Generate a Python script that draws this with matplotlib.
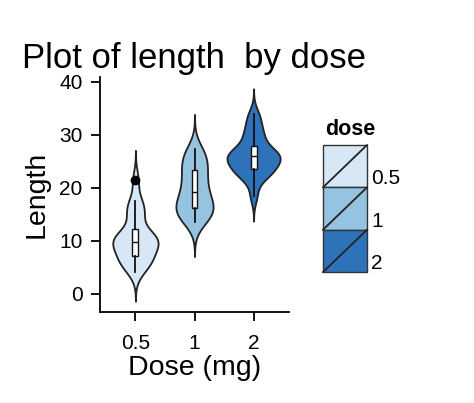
import numpy as np
import matplotlib
matplotlib.use("Agg")
import matplotlib.pyplot as plt
from matplotlib.patches import Rectangle
from matplotlib.lines import Line2D
from matplotlib.legend_handler import HandlerBase

plt.rcParams["font.family"] = ["Liberation Sans", "DejaVu Sans"]

# ToothGrowth lengths per dose
doses = ["0.5", "1", "2"]
len_05 = [4.2, 11.5, 7.3, 5.8, 6.4, 10.0, 11.2, 11.2, 5.2, 7.0,
          15.2, 21.5, 17.6, 9.7, 14.5, 10.0, 8.2, 9.4, 16.5, 9.7]
len_1 = [16.5, 16.5, 15.2, 17.3, 22.5, 17.3, 13.6, 14.5, 18.8, 15.5,
         19.7, 23.3, 23.6, 26.4, 20.0, 25.2, 25.8, 21.2, 14.5, 27.3]
len_2 = [23.6, 18.5, 33.9, 25.5, 26.4, 32.5, 26.7, 21.5, 23.3, 29.5,
         25.5, 26.4, 22.4, 24.5, 24.8, 30.9, 26.4, 27.3, 29.4, 23.0]
groups = [len_05, len_1, len_2]
fills = ["#D8E7F5", "#96C3E0", "#2E72B9"]


def bw_nrd0(x):
    x = np.asarray(x)
    q1, q3 = np.percentile(x, [25, 75])
    lo = min(np.std(x, ddof=1), (q3 - q1) / 1.34)
    return 0.9 * lo * len(x) ** -0.2


def kde(x, n=512, cut=3):
    # same as R density() with trim=FALSE in geom_violin
    x = np.asarray(x)
    bw = bw_nrd0(x)
    grid = np.linspace(x.min() - cut * bw, x.max() + cut * bw, n)
    dens = np.exp(-0.5 * ((grid[:, None] - x[None, :]) / bw) ** 2).sum(1)
    dens /= len(x) * bw * np.sqrt(2 * np.pi)
    return grid, dens


stats = []
for g in groups:
    grid, dens = kde(g)
    stats.append({"coords": grid, "vals": dens, "mean": np.mean(g),
                  "median": np.median(g), "min": grid.min(), "max": grid.max()})
gmax = max(s["vals"].max() for s in stats)
widths = [0.9 * s["vals"].max() / gmax for s in stats]  # scale = "area"

fig = plt.figure(figsize=(4.74, 4.03), dpi=100)
ax = fig.add_axes([100 / 474, 1 - 312 / 403, 189 / 474, 235 / 403])

pos = [1, 2, 3]
vp = ax.violin(stats, positions=pos, widths=widths, showmeans=False,
               showextrema=False, showmedians=False)
for body, c in zip(vp["bodies"], fills):
    body.set_facecolor(c)
    body.set_edgecolor("#222222")
    body.set_alpha(1)
    body.set_linewidth(1.3)

ax.boxplot(groups, positions=pos, widths=0.1, patch_artist=True,
           showcaps=False, manage_ticks=False,
           boxprops=dict(facecolor="white", edgecolor="#111111", linewidth=1.0),
           medianprops=dict(color="#111111", linewidth=1.0),
           whiskerprops=dict(color="#111111", linewidth=1.3),
           flierprops=dict(marker="o", markerfacecolor="black",
                           markeredgecolor="black", markersize=6),
           zorder=3)

ax.set_xlim(0.4, 3.6)
ax.set_ylim(-3.4, 40.9)
ax.set_xticks(pos)
ax.set_xticklabels(doses)
ax.set_yticks([0, 10, 20, 30, 40])
for s in ["top", "right"]:
    ax.spines[s].set_visible(False)
for s in ["left", "bottom"]:
    ax.spines[s].set_linewidth(1.3)
ax.tick_params(labelsize=15, length=6.5, width=1.3, colors="black")
ax.tick_params(axis="x", pad=9)
ax.tick_params(axis="y", pad=6)
ax.set_xlabel("Dose (mg)", fontsize=20.5, labelpad=2)
ax.set_ylabel("Length", fontsize=20.5, labelpad=7)

fig.text(22 / 474, 1 - 68 / 403, "Plot of length  by dose", fontsize=25,
         va="baseline", ha="left")
fig.text(325 / 474, 1 - 135 / 403, "dose", fontsize=15.5, fontweight="bold",
         va="baseline", ha="left")


class DiagHandler(HandlerBase):
    def create_artists(self, legend, orig, xd, yd, w, h, fontsize, trans):
        y0 = -2.2  # key bottom sits just under the label baseline
        r = Rectangle((-xd, y0), w, h, facecolor=orig.get_facecolor(),
                      edgecolor="#333333", linewidth=1.0, transform=trans)
        ln = Line2D([-xd, -xd + w], [y0, y0 + h], color="#222222",
                    linewidth=1.3, transform=trans)
        return [r, ln]


handles = [Rectangle((0, 0), 1, 1, facecolor=c) for c in fills]
leg = fig.legend(handles, doses, loc="lower left",
                 bbox_to_anchor=(323 / 474, 1 - 284 / 403),
                 bbox_transform=fig.transFigure, frameon=False,
                 handler_map={Rectangle: DiagHandler()},
                 fontsize=15, handlelength=2.11, handleheight=2.75,
                 labelspacing=0, handletextpad=0.2, borderpad=0,
                 borderaxespad=0)

fig.savefig("out.png", dpi=100)
